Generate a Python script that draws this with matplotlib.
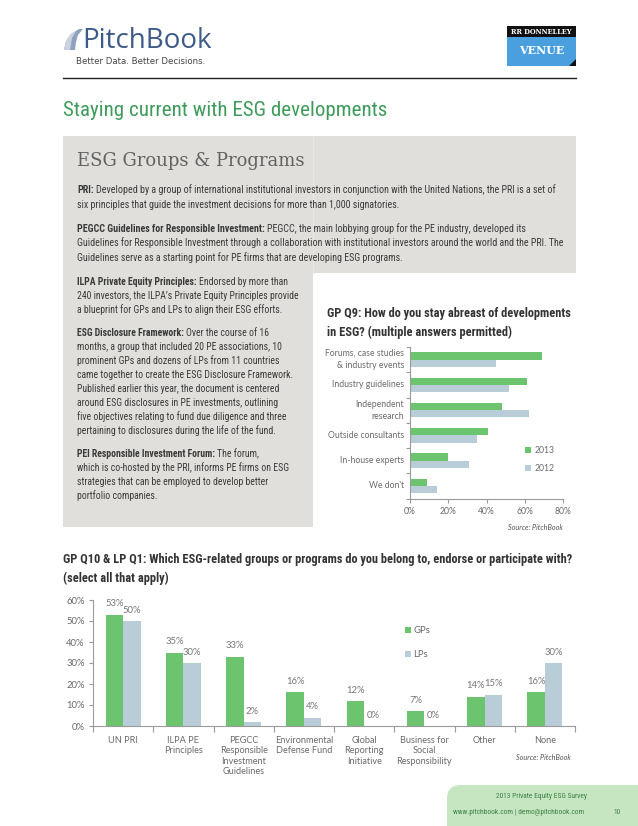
import matplotlib
matplotlib.use('Agg')
import matplotlib.pyplot as plt
from matplotlib import font_manager as fm
from matplotlib.font_manager import FontProperties
from matplotlib.patches import Rectangle, Polygon, FancyBboxPatch
import numpy as np

# ---------------- data ----------------
q9_categories = ["Forums, case studies\n& industry events", "Industry guidelines",
                 "Independent\nresearch", "Outside consultants", "In-house experts", "We don't"]
q9_2013 = [69, 61, 48, 41, 20, 9]
q9_2012 = [45, 52, 62, 35, 31, 14]
q9_series = ["2013", "2012"]
q9_xticks = [0, 20, 40, 60, 80]

q10_categories = ["UN PRI", "ILPA PE\nPrinciples", "PEGCC\nResponsible\nInvestment\nGuidelines",
                  "Environmental\nDefense Fund", "Global\nReporting\nInitiative",
                  "Business for\nSocial\nResponsibility", "Other", "None"]
q10_gps = [53, 35, 33, 16, 12, 7, 14, 16]
q10_lps = [50, 30, 2, 4, 0, 0, 15, 30]
q10_series = ["GPs", "LPs"]
q10_yticks = [0, 10, 20, 30, 40, 50, 60]

page_title = "Staying current with ESG developments"
box_title = "ESG Groups & Programs"
q9_title = ["GP Q9: How do you stay abreast of developments",
            "in ESG? (multiple answers permitted)"]
q10_title = ["GP Q10 & LP Q1: Which ESG-related groups or programs do you belong to, endorse or participate with?",
             "(select all that apply)"]
source_text = "Source: PitchBook"

top_lines = [
    [("PRI:", True), ("Developed by a group of international institutional investors in conjunction with the United Nations, the PRI is a set of", False)],
    [("six principles that guide the investment decisions for more than 1,000 signatories.", False)],
    None,
    [("PEGCC Guidelines for Responsible Investment:", True), ("PEGCC, the main lobbying group for the PE industry, developed its", False)],
    [("Guidelines for Responsible Investment through a collaboration with institutional investors around the world and the PRI. The", False)],
    [("Guidelines serve as a starting point for PE firms that are developing ESG programs.", False)],
]
left_lines = [
    [("ILPA Private Equity Principles:", True), ("Endorsed by more than", False)],
    [("240 investors, the ILPA\u2019s Private Equity Principles provide", False)],
    [("a blueprint for GPs and LPs to align their ESG efforts.", False)],
    None,
    [("ESG Disclosure Framework:", True), ("Over the course of 16", False)],
    [("months, a group that included 20 PE associations, 10", False)],
    [("prominent GPs and dozens of LPs from 11 countries", False)],
    [("came together to create the ESG Disclosure Framework.", False)],
    [("Published earlier this year, the document is centered", False)],
    [("around ESG disclosures in PE investments, outlining", False)],
    [("five objectives relating to fund due diligence and three", False)],
    [("pertaining to disclosures during the life of the fund.", False)],
    None,
    [("PEI Responsible Investment Forum:", True), ("The forum,", False)],
    [("which is co-hosted by the PRI, informs PE firms on ESG", False)],
    [("strategies that can be employed to develop better", False)],
    [("portfolio companies.", False)],
]
footer_lines = ["2013 Private Equity ESG Survey", "www.pitchbook.com | demo@pitchbook.com"]
page_number = "10"

# ---------------- fonts ----------------
PREF = ['Liberation Sans Narrow', 'Nimbus Sans Narrow', 'Arial Narrow', 'Roboto Condensed',
        'Open Sans Condensed', 'Noto Sans', 'Noto Sans Condensed', 'DejaVu Sans',
        'DejaVu Sans Condensed', 'Noto Sans Display', 'Open Sans', 'Roboto', 'Lato', 'Inter']


def _weight(f):
    w = f.weight
    if isinstance(w, str):
        w = fm.weight_dict.get(w, 400)
    return w


def pick_condensed(bold):
    best = None
    for f in fm.fontManager.ttflist:
        if f.name not in PREF or f.style != 'normal':
            continue
        st = str(f.stretch).lower()
        nm = f.name.lower()
        if 'extra' in st or 'ultra' in st or 'extra' in f.fname.lower():
            continue
        if 'condensed' in st or 'narrow' in nm or 'condensed' in nm or 'condensed' in f.fname.lower():
            sscore = 0 if (st == 'condensed' or 'narrow' in nm or 'condensed' in nm) else 1
            score = (PREF.index(f.name), sscore, abs(_weight(f) - (700 if bold else 400)))
            if best is None or score < best[0]:
                best = (score, f.fname)
    return best[1] if best else None


REG_PATH = pick_condensed(False)
BOLD_PATH = pick_condensed(True)


def fp(bold=False, size=7.0):
    path = BOLD_PATH if bold else REG_PATH
    if path:
        return FontProperties(fname=path, size=size)
    return FontProperties(family=['Liberation Sans', 'DejaVu Sans'],
                          weight='bold' if bold else 'normal', size=size)


# ---------------- style ----------------
W, H = 638, 826
CHART = ['Lato', 'DejaVu Sans']
GREEN = '#6cc46f'
BLUEGRAY = '#b8cdd7'
TXT = '#3a3a3a'
LAB = '#6a6a6a'
SPINE = '#9a9a9a'
GRAYBOX = '#e0dfdb'

fig = plt.figure(figsize=(W / 100, H / 100), dpi=100)
fig.patch.set_facecolor('white')
bg = fig.add_axes([0, 0, 1, 1])
bg.set_xlim(0, W)
bg.set_ylim(H, 0)
bg.axis('off')
renderer = fig.canvas.get_renderer()


def text_width(s, bold, size):
    t = bg.text(0, 0, s, fontproperties=fp(bold, size))
    w = t.get_window_extent(renderer=renderer).width
    t.remove()
    return w


def space_width(size):
    return text_width("x x", False, size) - text_width("xx", False, size)


def runs_width(runs, size):
    w = 0
    for i, (s, b) in enumerate(runs):
        w += text_width(s, b, size)
        if i < len(runs) - 1:
            w += space_width(size)
    return w


def fit_size(runs, target, base=7.0, lo=5.0, hi=20.0):
    s = base * target / runs_width(runs, base)
    return max(lo, min(hi, s))


# ---------------- header ----------------
bg.add_patch(Polygon([(64, 50), (66, 41), (71, 34), (79, 29), (83, 29), (78, 35), (76, 42), (75, 50)],
                     closed=True, facecolor='#8ea2be', edgecolor='none'))
bg.add_patch(Polygon([(64, 50), (66, 41), (71, 34), (76, 31), (72, 38), (70, 50)],
                     closed=True, facecolor='#c9d2de', edgecolor='none'))
bg.text(82, 41, "PitchBook", fontsize=20, family=['Open Sans', 'DejaVu Sans'], color='#3d5a88',
        ha='left', va='center')
bg.text(76, 61, "Better Data. Better Decisions.", fontsize=6.2, family=['DejaVu Sans'], color='#444444',
        ha='left', va='center')

bg.add_patch(Rectangle((507, 26), 69, 11, facecolor='#111111', edgecolor='none'))
bg.text(541.5, 31.8, "RR DONNELLEY", fontsize=4.8, family=['DejaVu Serif'], weight='bold', color='white',
        ha='center', va='center')
bg.add_patch(Rectangle((507, 37), 69, 29, facecolor='#4aa0df', edgecolor='none'))
bg.text(541.5, 51, "VENUE", fontsize=8, family=['DejaVu Serif'], weight='bold', color='white',
        ha='center', va='center')
bg.add_patch(Polygon([(569, 66), (576, 59), (576, 66)], closed=True, facecolor='#111111', edgecolor='none'))

bg.plot([63, 576], [78, 78], color='#222222', lw=1.0)

s_title = fit_size([(page_title, False)], 325, base=16)
bg.text(63, 110, page_title, fontproperties=fp(False, s_title), color='#3f9b5c', ha='left', va='center')

# ---------------- gray box ----------------
bg.add_patch(Polygon([(63, 136), (576, 136), (576, 273), (313, 273), (313, 527), (63, 527)],
                     closed=True, facecolor=GRAYBOX, edgecolor='none'))
bg.plot([313, 313], [136, 273], color='#e9e8e5', lw=0.8)
bg.text(77, 161, box_title, fontsize=13, family=['DejaVu Serif'], color='#626262',
        ha='left', va='center')


def draw_line(x, y, runs, size, color=TXT):
    cx = x
    sw = space_width(size)
    for i, (txt, bold) in enumerate(runs):
        t = bg.text(cx, y + 3, txt, fontproperties=fp(bold, size), color=color,
                    ha='left', va='baseline')
        if i < len(runs) - 1:
            cx += t.get_window_extent(renderer=renderer).width + sw


def draw_block(x, y0, lines, step, gap, size):
    y = y0
    for ln in lines:
        if ln is None:
            y += gap
            continue
        draw_line(x, y, ln, size)
        y += step


s_top = min(9.0, fit_size(top_lines[0], 485))
s_left = min(9.0, 0.5 * (fit_size(left_lines[1], 217) + fit_size(left_lines[0], 219)))
draw_block(77, 190, top_lines, 14.5, 10, s_top)
draw_block(77, 282, left_lines, 14.0, 9, s_left)

# ---------------- Q9 chart ----------------
s_q9 = fit_size([(q9_title[0], True)], 245, base=10)
bg.text(327, 314, q9_title[0], fontproperties=fp(True, s_q9), color='#333333', ha='left', va='center')
bg.text(327, 332, q9_title[1], fontproperties=fp(True, s_q9), color='#333333', ha='left', va='center')

ax1 = fig.add_axes([410 / W, 1 - 498.5 / H, (563 - 410) / W, (498.5 - 347) / H])
ax1.set_facecolor('none')
y = np.arange(len(q9_categories))
bh = 0.29
b13 = ax1.barh(y - bh / 2, q9_2013, height=bh, color=GREEN, edgecolor='none', label=q9_series[0])
b12 = ax1.barh(y + bh / 2, q9_2012, height=bh, color=BLUEGRAY, edgecolor='none', label=q9_series[1])
ax1.set_ylim(len(q9_categories) - 0.5, -0.5)
ax1.set_xlim(0, 80)
ax1.set_yticks(np.arange(-0.5, len(q9_categories), 1.0))
ax1.set_yticklabels([])
ax1.set_xticks(q9_xticks)
ax1.set_xticklabels([f"{v}%" for v in q9_xticks], fontsize=6.2, family=CHART, color=LAB)
for s in ['top', 'right']:
    ax1.spines[s].set_visible(False)
for s in ['left', 'bottom']:
    ax1.spines[s].set_color(SPINE)
    ax1.spines[s].set_linewidth(0.8)
ax1.tick_params(axis='both', length=3, width=0.8, color=SPINE, pad=3)
for i, lab in enumerate(q9_categories):
    ax1.annotate(lab, xy=(0, i), xycoords=('axes fraction', 'data'), xytext=(-6, 0),
                 textcoords='offset pixels', ha='right', va='center', fontsize=6.2,
                 family=CHART, color=LAB, linespacing=1.45)
ax1.legend(handles=[b13, b12], loc='upper left', bbox_to_anchor=(525 / W, 1 - 446 / H),
           bbox_transform=fig.transFigure, frameon=False, handlelength=0.7, handleheight=0.7,
           handletextpad=0.4, labelspacing=1.0, prop={'family': CHART, 'size': 6.2},
           labelcolor=LAB, borderpad=0, borderaxespad=0)
bg.text(563, 527, source_text, fontsize=5.2, family=CHART, style='italic', color='#555555',
        ha='right', va='center')

# ---------------- Q10 chart ----------------
s_q10 = fit_size([(q10_title[0], True)], 512, base=10)
bg.text(63, 560, q10_title[0], fontproperties=fp(True, s_q10), color='#333333', ha='left', va='center')
bg.text(63, 578, q10_title[1], fontproperties=fp(True, s_q10), color='#333333', ha='left', va='center')

ax2 = fig.add_axes([93 / W, 1 - 726 / H, (575 - 93) / W, (726 - 600) / H])
ax2.set_facecolor('none')
x = np.arange(len(q10_categories))
bw = 0.29
bg_ = ax2.bar(x - bw / 2, q10_gps, width=bw, color=GREEN, edgecolor='none', label=q10_series[0])
bl_ = ax2.bar(x + bw / 2, q10_lps, width=bw, color=BLUEGRAY, edgecolor='none', label=q10_series[1])
ax2.set_xlim(-0.5, len(q10_categories) - 0.5)
ax2.set_ylim(0, 60)
ax2.set_yticks(q10_yticks)
ax2.set_yticklabels([f"{v}%" for v in q10_yticks], fontsize=6.8, family=CHART, color=LAB)
ax2.set_xticks(x)
ax2.set_xticklabels(q10_categories, fontsize=6.6, family=CHART, color=LAB, linespacing=1.2)
ax2.set_xticks(np.arange(-0.5, len(q10_categories), 1.0), minor=True)
ax2.tick_params(axis='x', which='major', length=0, pad=7)
ax2.tick_params(axis='x', which='minor', length=4, width=0.8, color=SPINE)
ax2.tick_params(axis='y', length=3, width=0.8, color=SPINE, pad=3)
for s in ['top', 'right']:
    ax2.spines[s].set_visible(False)
for s in ['left', 'bottom']:
    ax2.spines[s].set_color(SPINE)
    ax2.spines[s].set_linewidth(0.8)
for rect, v in zip(bg_, q10_gps):
    ax2.annotate(f"{v}%", (rect.get_x() + rect.get_width() / 2, v), xytext=(0, 4.5),
                 textcoords='offset points', ha='center', va='bottom', fontsize=6.8,
                 family=CHART, color='#777777')
for rect, v in zip(bl_, q10_lps):
    ax2.annotate(f"{v}%", (rect.get_x() + rect.get_width() / 2, v), xytext=(0, 4.5),
                 textcoords='offset points', ha='center', va='bottom', fontsize=6.8,
                 family=CHART, color='#777777')
ax2.legend(handles=[bg_, bl_], loc='upper left', bbox_to_anchor=(405 / W, 1 - 626 / H),
           bbox_transform=fig.transFigure, frameon=False, handlelength=0.6, handleheight=0.6,
           handletextpad=0.3, labelspacing=1.6, prop={'family': CHART, 'size': 6.8},
           labelcolor=LAB, borderpad=0, borderaxespad=0)
bg.text(571, 758, source_text, fontsize=5.2, family=CHART, style='italic', color='#555555',
        ha='right', va='center')

# ---------------- footer ----------------
bg.add_patch(FancyBboxPatch((447, 785), 260, 100, boxstyle='round,pad=0,rounding_size=14',
                            facecolor='#c5e6c1', edgecolor='none'))
s_foot = min(8.0, 1.04 * fit_size([(footer_lines[1], False)], 126))
bg.text(541, 797, footer_lines[0], fontproperties=fp(False, s_foot), color='#3b7f45', ha='center', va='center')
bg.text(584, 813, footer_lines[1], fontproperties=fp(False, s_foot), color='#3b7f45', ha='right', va='center')
bg.text(617, 813, page_number, fontproperties=fp(False, s_foot), color='#3b7f45', ha='center', va='center')

fig.savefig('out.png', dpi=100, facecolor='white')
